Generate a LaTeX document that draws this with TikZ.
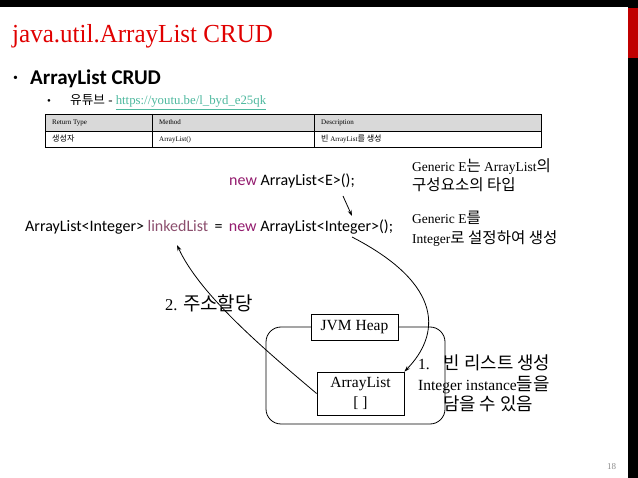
\documentclass[tikz,border=0pt]{standalone}
\usepackage{fontspec}
\usepackage{graphicx}
\setmainfont{Liberation Serif}
\newfontfamily\krfont[Scale=1.15]{Noto Sans CJK KR}
\newfontfamily\calfont{Carlito}
\usetikzlibrary{arrows.meta}
\definecolor{titlered}{HTML}{E00000}
\definecolor{barred}{HTML}{C00000}
\definecolor{kwnew}{HTML}{931C6E}
\definecolor{varcol}{HTML}{8C4F6E}
\definecolor{linkcol}{HTML}{4DB89E}
\definecolor{hdrgray}{HTML}{D9D9D9}
\definecolor{pagegray}{HTML}{8C8C8C}
\tikzset{
  txt/.style={inner sep=0pt, anchor=base west},
  code/.style={txt, font=\calfont\fontsize{16}{19}\selectfont},
  note/.style={txt, font=\fontsize{13.5}{17}\selectfont},
  big/.style={txt, font=\fontsize{15.5}{18}\selectfont},
  cell/.style={txt, font=\fontsize{7}{8}\selectfont},
  boxed/.style={draw, thick, fill=white, inner sep=0pt},
  conn/.style={thick, -{Stealth[length=6pt,width=4pt]}},
}
\begin{document}
\begin{tikzpicture}[x=1pt,y=-1pt]
\useasboundingbox (0,0) rectangle (638,478);
% frame bars
\fill[black] (0,0) rectangle (638,7);
\fill[black] (628,0) rectangle (638,478);
\fill[barred] (628,8) rectangle (638,58);
% title
\node[txt, text=titlered, font=\fontsize{26}{30}\selectfont] (title) at (12,43) {\scalebox{0.963}[1]{java.util.ArrayList CRUD}};
% bullets
\node[txt, font=\fontsize{14}{16}\selectfont] (b1dot) at (13,83) {•};
\node[txt, font=\calfont\bfseries\fontsize{21}{24}\selectfont] (b1) at (30,85) {ArrayList CRUD};
\node[txt, font=\fontsize{11}{13}\selectfont] (b2dot) at (47,105) {•};
\node[txt, font=\fontsize{12.8}{15}\selectfont] (b2) at (70,105) {{\krfont\fontsize{11}{13}\selectfont 유튜브} - \textcolor{linkcol}{\underline{https://youtu.be/l\_byd\_e25qk}}};
% table
\fill[hdrgray] (45,114) rectangle (541,131);
\draw[semithick] (45,114) rectangle (541,147);
\draw[semithick] (45,131) -- (541,131);
\draw[semithick] (152,114) -- (152,147);
\draw[semithick] (314,114) -- (314,147);
\node[cell] (h1) at (52,125) {Return Type};
\node[cell] (h2) at (159,125) {Method};
\node[cell] (h3) at (321,125) {Description};
\node[cell] (c1) at (52,142) {\krfont 생성자};
\node[cell] (c2) at (159,142) {ArrayList()};
\node[cell] (c3) at (321,142) {{\krfont 빈} ArrayList{\krfont 를 생성}};
% code
\node[code] (newE) at (229,186) {\textcolor{kwnew}{new} ArrayList<E>();};
\node[code] (decl) at (25,232) {ArrayList<Integer>\ \textcolor{varcol}{linkedList}\ \,=\ \,\textcolor{kwnew}{new} ArrayList<Integer>();};
% notes right
\node[note] (n1) at (412,172) {Generic E{\krfont 는} ArrayList{\krfont 의}};
\node[note] (n2) at (412,191) {\krfont 구성요소의 타입};
\node[note] (n3) at (412,224) {Generic E{\krfont 를}};
\node[note] (n4) at (412,244) {Integer{\krfont 로 설정하여 생성}};
% heap
\draw[thick, rounded corners=15pt] (266,327) rectangle (445,424);
\node[boxed, minimum width=87pt, minimum height=26pt, font=\fontsize{15.5}{18}\selectfont] (jvm) at (354.5,327) {JVM Heap};
\node[boxed, minimum width=87pt, minimum height=43pt, align=center, font=\fontsize{15.5}{20}\selectfont] (alist) at (360.5,393.5) {ArrayList\\{[ ]}};
\node[big, font=\fontsize{16.5}{19}\selectfont] (lab2) at (165,311) {2. {\krfont 주소할당}};
\node[big] (m1) at (418,370) {1.\hspace{14pt}{\krfont 빈 리스트 생성}};
\node[big] (m2) at (418,391) {Integer instance{\krfont 들을}};
\node[big] (m3) at (443,411) {\krfont 담을 수 있음};
% page number
\node[txt, text=pagegray, font=\fontsize{9}{11}\selectfont] (pg) at (607,470) {18};
% connectors
\coordinate (aS) at (343,196);
\coordinate (aE) at (352,216);
\draw[conn] (aS) -- (aE);
\coordinate (bS) at (352,237);
\draw[conn] (bS) .. controls (445,285) and (440,335) .. (alist.north east);
\coordinate (cE) at (177,245);
\draw[conn] (alist.west) .. controls (265,350) and (200,295) .. (cE);
\end{tikzpicture}
\end{document}
